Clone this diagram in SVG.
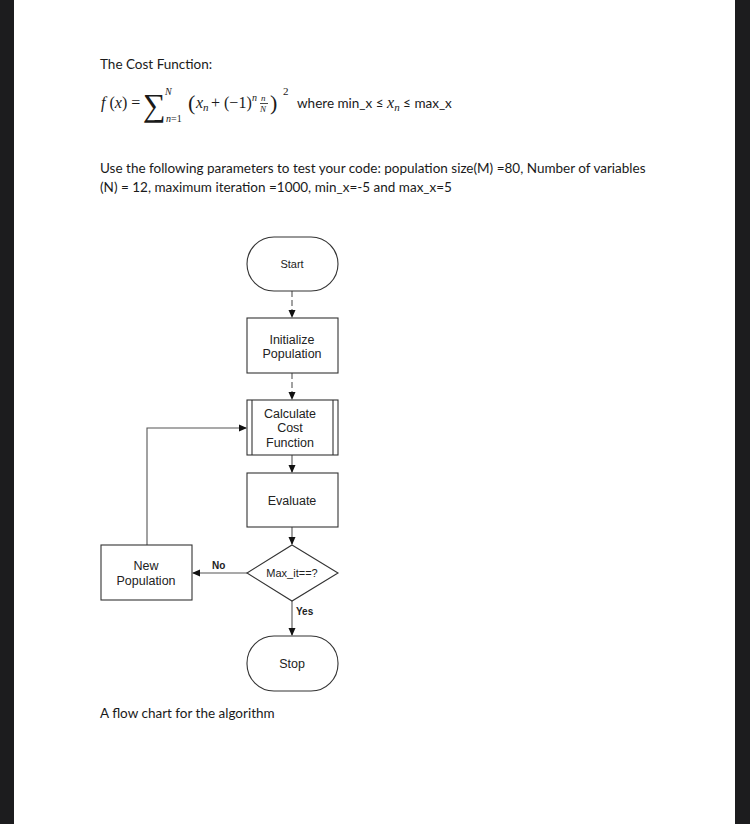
<svg xmlns="http://www.w3.org/2000/svg" width="750" height="824" viewBox="0 0 750 824">
<style>
.doc{font-family:Lato,"Open Sans","Liberation Sans",sans-serif;font-size:13.5px;fill:#1a1a1a}
.m{font-family:"Liberation Serif","DejaVu Serif",serif;fill:#1a1a1a}
.mi{font-style:italic}
.n{fill:#fff;stroke:#333;stroke-width:1.1}
.t{font-family:"Liberation Sans",Arial,sans-serif;font-size:12.5px;fill:#222;text-anchor:middle}
.e{fill:none;stroke:#555;stroke-width:1.1}
.lb{font-family:"Liberation Sans",Arial,sans-serif;font-size:10px;font-weight:bold;fill:#222}
</style>
<defs>
<marker id="ah" markerWidth="8" markerHeight="8" refX="7" refY="4" orient="auto" markerUnits="userSpaceOnUse">
<path d="M0,0.5 L8,4 L0,7.5 Z" fill="#111"/>
</marker>
</defs>
<rect x="0" y="0" width="750" height="824" fill="#1c1c1e"/>
<rect x="14" y="0" width="721" height="824" fill="#fff"/>

<text class="doc" x="100" y="69">The Cost Function:</text>
<g id="formula">
<text class="m" x="101" y="108" font-size="16"><tspan class="mi">f</tspan> (<tspan class="mi">x</tspan>) =</text>
<text class="m" x="143" y="116" font-size="32">∑</text>
<text class="m mi" x="165" y="95" font-size="10">N</text>
<text class="m" x="166" y="122" font-size="10"><tspan class="mi">n</tspan>=1</text>
<text class="m" x="188" y="110" font-size="22">(</text>
<text class="m mi" x="196" y="108" font-size="16">x</text>
<text class="m mi" x="203" y="111" font-size="11">n</text>
<text class="m" x="211" y="108" font-size="16">+ (−1)</text>
<text class="m mi" x="252" y="101" font-size="10">n</text>
<text class="m mi" x="261" y="101" font-size="9">n</text>
<line x1="260" y1="103.5" x2="268" y2="103.5" stroke="#1a1a1a" stroke-width="0.8"/>
<text class="m mi" x="260" y="112" font-size="9">N</text>
<text class="m" x="270" y="110" font-size="22">)</text>
<text class="m" x="283" y="95" font-size="11">2</text>
<text class="doc" x="297" y="108">where min_x ≤ <tspan class="m mi" font-size="16">x</tspan><tspan class="m mi" font-size="11" dy="3">n</tspan><tspan dy="-3"> ≤ max_x</tspan></text>
</g>

<text class="doc" x="100" y="173">Use the following parameters to test your code: population size(M) =80, Number of variables</text>
<text class="doc" x="100" y="192">(N) = 12, maximum iteration =1000, min_x=-5 and max_x=5</text>

<g id="connectors">
<line class="e" x1="292" y1="291" x2="292" y2="317" stroke-dasharray="6,3" marker-end="url(#ah)"/>
<line class="e" x1="292" y1="373" x2="292" y2="399" stroke-dasharray="6,3" marker-end="url(#ah)"/>
<line class="e" x1="292" y1="455" x2="292" y2="472" marker-end="url(#ah)"/>
<line class="e" x1="292" y1="527" x2="292" y2="544" marker-end="url(#ah)"/>
<line class="e" x1="292" y1="601" x2="292" y2="635" marker-end="url(#ah)"/>
<line class="e" x1="247" y1="573" x2="193" y2="573" marker-end="url(#ah)"/>
<polyline class="e" points="147,545 147,428 246,428" marker-end="url(#ah)"/>
<text class="lb" x="212" y="569">No</text>
<text class="lb" x="296" y="615">Yes</text>
</g>

<g id="start">
<rect class="n" x="247" y="237" width="91" height="54" rx="27" ry="27"/>
<text class="t" x="292" y="268" style="font-size:11px">Start</text>
</g>
<g id="init">
<rect class="n" x="247" y="318" width="91" height="55"/>
<text class="t" x="292" y="344">Initialize</text>
<text class="t" x="292" y="358">Population</text>
</g>
<g id="calc">
<rect class="n" x="247" y="400" width="91" height="55"/>
<line x1="252" y1="400" x2="252" y2="455" stroke="#333" stroke-width="1.1"/>
<line x1="333" y1="400" x2="333" y2="455" stroke="#333" stroke-width="1.1"/>
<text class="t" x="290" y="418">Calculate</text>
<text class="t" x="290" y="432">Cost</text>
<text class="t" x="290" y="447">Function</text>
</g>
<g id="evaluate">
<rect class="n" x="247" y="473" width="91" height="54"/>
<text class="t" x="292" y="505">Evaluate</text>
</g>
<g id="decision">
<polygon class="n" points="292,545 338,573 292,601 247,573"/>
<text class="t" x="292" y="577" style="font-size:11px">Max_it==?</text>
</g>
<g id="newpop">
<rect class="n" x="101" y="545" width="91" height="55"/>
<text class="t" x="146" y="570">New</text>
<text class="t" x="146" y="585">Population</text>
</g>
<g id="stop">
<rect class="n" x="247" y="636" width="91" height="55" rx="27" ry="27"/>
<text class="t" x="292" y="668">Stop</text>
</g>

<text class="doc" x="100" y="718">A flow chart for the algorithm</text>
</svg>
